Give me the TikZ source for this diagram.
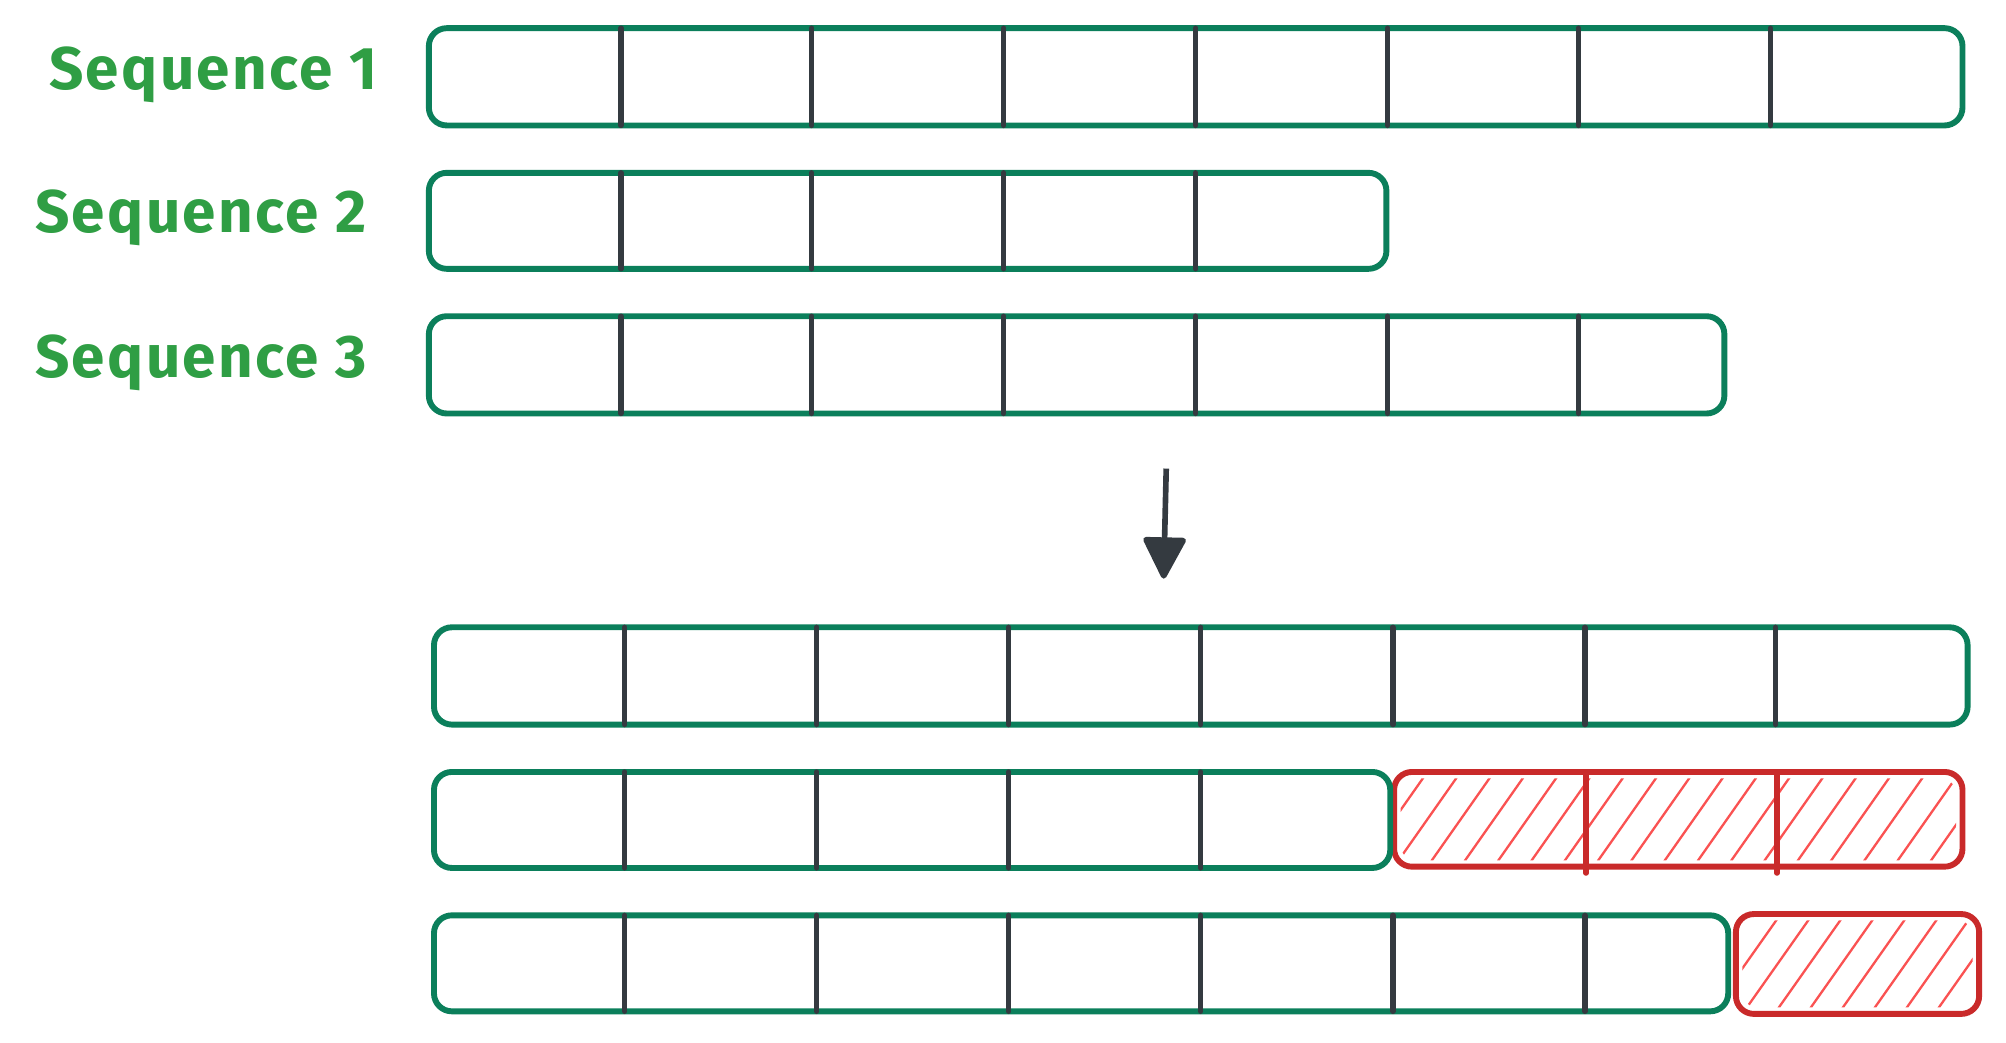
\documentclass[tikz,border=0pt]{standalone}
\usepackage{fontspec}
\setmainfont{Fira Sans}
\newfontfamily\labelfont[LetterSpace=4.0]{Fira Sans}
\usetikzlibrary{arrows.meta}
\definecolor{seqgreen}{HTML}{0B7F5B}
\definecolor{txtgreen}{HTML}{2F9E44}
\definecolor{divgray}{HTML}{343A40}
\definecolor{padred}{HTML}{C92A2A}
\definecolor{hatchred}{HTML}{FA5252}
\tikzset{
 bar/.style={draw=seqgreen, line width=2.3pt, rounded corners=7pt},
 padbar/.style={draw=padred, line width=2.3pt, rounded corners=7pt},
 divider/.style={draw=divgray, line width=2.1pt, line cap=round},
 paddiv/.style={draw=padred, line width=2.1pt, line cap=round},
 hatch/.style={draw=hatchred, line width=0.9pt, line cap=round},
 seqlabel/.style={text=txtgreen, font=\labelfont\bfseries\fontsize{23.5}{28}\selectfont, anchor=base west, inner sep=0pt},
 flow/.style={draw=divgray, line width=2.2pt, -{Triangle[length=17.5pt,width=17.5pt,round]}},
}
\begin{document}
\begin{tikzpicture}[x=0.5pt,y=-0.5pt]
\useasboundingbox (0,0) rectangle (1567,814);
% labels
\node[seqlabel] (l1) at (38,70) {Sequence 1};
\node[seqlabel] (l2) at (27,182) {Sequence 2};
\node[seqlabel] (l3) at (27,295) {Sequence 3};
% input rows
\draw[bar] (335,22) rectangle (1533,98);
\foreach \x in {485,634,784,934,1084,1233,1383} \draw[divider] (\x,22) -- (\x,98);
\draw[bar] (335,135) rectangle (1083,210);
\foreach \x in {485,634,784,934} \draw[divider] (\x,135) -- (\x,210);
\draw[bar] (335,247) rectangle (1347,323);
\foreach \x in {485,634,784,934,1084,1233} \draw[divider] (\x,247) -- (\x,323);
% arrow
\coordinate (astart) at (911,366);
\coordinate (aend) at (909,452);
\draw[flow] (astart) -- (aend);
% padded rows
\draw[bar] (339,490) rectangle (1537,566);
\foreach \x in {488,638,788,938,1088,1238,1387} \draw[divider] (\x,490) -- (\x,566);
% row 5
\begin{scope}
\clip[rounded corners=6pt] (1094,608) rectangle (1528,672);
\foreach \k in {-3,...,18} \draw[hatch] (1089+\k*26,677) -- ++(52,-74);
\end{scope}
\draw[padbar] (1089,603) rectangle (1533,677);
\foreach \x in {1239,1388} \draw[paddiv] (\x,603) -- (\x,682);
\draw[bar] (339,603) rectangle (1086,678);
\foreach \x in {488,638,788,938} \draw[divider] (\x,603) -- (\x,678);
% row 6
\begin{scope}
\clip[rounded corners=6pt] (1361,719) rectangle (1541,787);
\foreach \k in {-3,...,8} \draw[hatch] (1361+\k*25,792) -- ++(55,-78);
\end{scope}
\draw[padbar] (1356,714) rectangle (1546,792);
\draw[bar] (339,715) rectangle (1350,790);
\foreach \x in {488,638,788,938,1088,1238} \draw[divider] (\x,715) -- (\x,790);
\end{tikzpicture}
\end{document}
